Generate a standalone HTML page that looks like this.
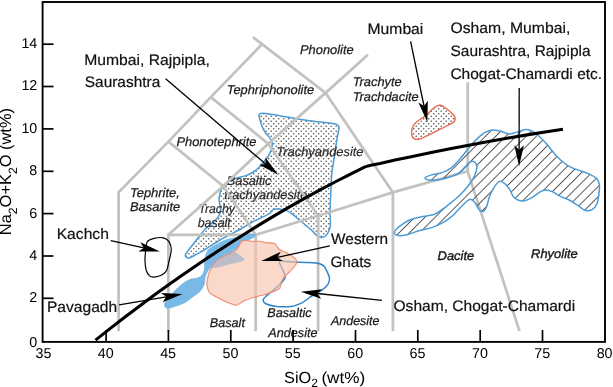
<!DOCTYPE html>
<html><head><meta charset="utf-8"><style>
html,body{margin:0;padding:0;background:#fff;}
svg{display:block;}
</style></head><body>
<svg width="613" height="387" viewBox="0 0 613 387" style="text-rendering:geometricPrecision">
<defs><pattern id="dots" width="5" height="5" patternUnits="userSpaceOnUse"><circle cx="1.2" cy="1.2" r="0.82" fill="#555"/><circle cx="3.7" cy="3.7" r="0.82" fill="#555"/></pattern><pattern id="dotsr" width="5" height="5" patternUnits="userSpaceOnUse"><rect width="5" height="5" fill="#fff"/><circle cx="1.2" cy="1.2" r="0.82" fill="#555"/><circle cx="3.7" cy="3.7" r="0.82" fill="#555"/></pattern><pattern id="hatch" width="7.2" height="7.2" patternUnits="userSpaceOnUse" patternTransform="rotate(45)"><line x1="0.5" y1="0" x2="0.5" y2="7.2" stroke="#3a3a3a" stroke-width="0.85"/></pattern></defs>
<rect width="613" height="387" fill="#fff"/>
<path d="M259.3,114.0 C260.3,113.2 261.9,113.2 265.5,113.5 C269.1,113.8 275.8,115.0 281.0,115.9 C286.2,116.8 291.4,117.9 296.6,118.7 C301.8,119.5 306.9,120.3 312.1,121.0 C317.3,121.7 323.5,122.2 327.6,122.8 C331.7,123.4 335.0,123.6 336.9,124.4 C338.8,125.2 338.9,125.6 339.0,127.5 C339.1,129.4 338.0,133.0 337.5,136.0 C337.0,139.0 336.6,141.6 336.0,145.3 C335.4,149.0 334.9,153.3 334.2,158.0 C333.5,162.7 332.3,168.5 331.8,173.2 C331.3,177.9 331.3,182.0 331.1,186.4 C330.9,190.8 330.7,195.1 330.5,199.5 C330.3,203.9 330.0,208.3 330.0,212.7 C330.0,217.1 330.7,222.4 330.3,225.9 C329.9,229.4 328.8,231.7 327.5,233.6 C326.2,235.5 324.4,236.9 322.7,237.3 C321.0,237.7 319.0,237.0 317.2,235.8 C315.4,234.6 313.7,232.1 311.7,230.3 C309.7,228.5 307.3,226.6 305.1,224.8 C302.9,223.0 300.8,221.1 298.6,219.3 C296.4,217.5 294.2,215.3 292.0,213.8 C289.8,212.3 287.6,210.9 285.4,210.1 C283.2,209.3 280.8,209.1 278.8,209.0 C276.8,208.9 275.1,208.6 273.5,209.3 C271.9,210.1 271.4,212.2 269.5,213.5 C267.6,214.8 264.6,216.1 262.0,217.4 C259.4,218.7 256.7,219.8 254.0,221.2 C251.3,222.6 248.7,224.2 246.0,225.8 C243.3,227.4 240.8,229.0 238.0,230.5 C235.2,232.0 231.9,233.4 229.0,235.0 C226.1,236.6 222.8,238.4 220.3,239.9 C217.8,241.4 216.1,242.6 214.1,243.8 C212.1,245.0 210.2,246.1 208.5,247.2 C206.8,248.3 205.7,249.2 203.6,250.4 C201.5,251.6 198.4,253.3 195.9,254.6 C193.4,255.9 190.2,257.9 188.5,258.2 C186.8,258.5 185.8,257.0 185.4,256.2 C185.0,255.4 185.3,254.7 186.2,253.2 C187.1,251.7 189.1,249.4 190.7,247.3 C192.3,245.2 194.2,243.0 195.9,240.8 C197.6,238.6 199.4,236.2 201.0,234.2 C202.6,232.2 204.0,230.3 205.5,228.8 C207.0,227.3 208.1,226.6 209.8,225.0 C211.5,223.4 214.4,221.1 215.9,219.5 C217.4,217.9 218.2,217.2 219.0,215.6 C219.8,214.0 220.5,212.1 220.6,210.2 C220.7,208.3 220.1,205.8 219.8,204.0 C219.5,202.2 219.0,200.9 219.0,199.3 C219.0,197.8 219.4,196.4 219.8,194.7 C220.2,193.0 220.5,190.6 221.3,189.0 C222.1,187.4 223.2,186.4 224.4,185.2 C225.6,184.0 226.4,182.9 228.3,181.7 C230.2,180.5 233.2,179.2 236.0,178.2 C238.8,177.2 242.2,176.8 245.0,175.9 C247.8,175.0 250.3,173.8 252.5,172.5 C254.7,171.2 256.5,169.7 258.3,168.0 C260.1,166.3 261.9,164.2 263.5,162.3 C265.1,160.4 266.7,158.6 268.0,156.5 C269.3,154.4 270.5,152.2 271.2,150.0 C271.9,147.8 272.4,144.9 272.2,143.0 C272.0,141.1 271.3,140.1 270.2,138.4 C269.1,136.7 266.9,135.1 265.5,132.9 C264.1,130.7 262.6,127.7 261.6,125.2 C260.6,122.8 260.0,120.1 259.6,118.2 C259.2,116.3 258.3,114.8 259.3,114.0Z" fill="url(#dots)" stroke="none"/>
<path d="M259.3,114.0 C260.3,113.2 261.9,113.2 265.5,113.5 C269.1,113.8 275.8,115.0 281.0,115.9 C286.2,116.8 291.4,117.9 296.6,118.7 C301.8,119.5 306.9,120.3 312.1,121.0 C317.3,121.7 323.5,122.2 327.6,122.8 C331.7,123.4 335.0,123.6 336.9,124.4 C338.8,125.2 338.9,125.6 339.0,127.5 C339.1,129.4 338.0,133.0 337.5,136.0 C337.0,139.0 336.6,141.6 336.0,145.3 C335.4,149.0 334.9,153.3 334.2,158.0 C333.5,162.7 332.3,168.5 331.8,173.2 C331.3,177.9 331.3,182.0 331.1,186.4 C330.9,190.8 330.7,195.1 330.5,199.5 C330.3,203.9 330.0,208.3 330.0,212.7 C330.0,217.1 330.7,222.4 330.3,225.9 C329.9,229.4 328.8,231.7 327.5,233.6 C326.2,235.5 324.4,236.9 322.7,237.3 C321.0,237.7 319.0,237.0 317.2,235.8 C315.4,234.6 313.7,232.1 311.7,230.3 C309.7,228.5 307.3,226.6 305.1,224.8 C302.9,223.0 300.8,221.1 298.6,219.3 C296.4,217.5 294.2,215.3 292.0,213.8 C289.8,212.3 287.6,210.9 285.4,210.1 C283.2,209.3 280.8,209.1 278.8,209.0 C276.8,208.9 275.1,208.6 273.5,209.3 C271.9,210.1 271.4,212.2 269.5,213.5 C267.6,214.8 264.6,216.1 262.0,217.4 C259.4,218.7 256.7,219.8 254.0,221.2 C251.3,222.6 248.7,224.2 246.0,225.8 C243.3,227.4 240.8,229.0 238.0,230.5 C235.2,232.0 231.9,233.4 229.0,235.0 C226.1,236.6 222.8,238.4 220.3,239.9 C217.8,241.4 216.1,242.6 214.1,243.8 C212.1,245.0 210.2,246.1 208.5,247.2 C206.8,248.3 205.7,249.2 203.6,250.4 C201.5,251.6 198.4,253.3 195.9,254.6 C193.4,255.9 190.2,257.9 188.5,258.2 C186.8,258.5 185.8,257.0 185.4,256.2 C185.0,255.4 185.3,254.7 186.2,253.2 C187.1,251.7 189.1,249.4 190.7,247.3 C192.3,245.2 194.2,243.0 195.9,240.8 C197.6,238.6 199.4,236.2 201.0,234.2 C202.6,232.2 204.0,230.3 205.5,228.8 C207.0,227.3 208.1,226.6 209.8,225.0 C211.5,223.4 214.4,221.1 215.9,219.5 C217.4,217.9 218.2,217.2 219.0,215.6 C219.8,214.0 220.5,212.1 220.6,210.2 C220.7,208.3 220.1,205.8 219.8,204.0 C219.5,202.2 219.0,200.9 219.0,199.3 C219.0,197.8 219.4,196.4 219.8,194.7 C220.2,193.0 220.5,190.6 221.3,189.0 C222.1,187.4 223.2,186.4 224.4,185.2 C225.6,184.0 226.4,182.9 228.3,181.7 C230.2,180.5 233.2,179.2 236.0,178.2 C238.8,177.2 242.2,176.8 245.0,175.9 C247.8,175.0 250.3,173.8 252.5,172.5 C254.7,171.2 256.5,169.7 258.3,168.0 C260.1,166.3 261.9,164.2 263.5,162.3 C265.1,160.4 266.7,158.6 268.0,156.5 C269.3,154.4 270.5,152.2 271.2,150.0 C271.9,147.8 272.4,144.9 272.2,143.0 C272.0,141.1 271.3,140.1 270.2,138.4 C269.1,136.7 266.9,135.1 265.5,132.9 C264.1,130.7 262.6,127.7 261.6,125.2 C260.6,122.8 260.0,120.1 259.6,118.2 C259.2,116.3 258.3,114.8 259.3,114.0Z" fill="none" stroke="#4a9bd6" stroke-width="1.5"/>
<g font-family="Liberation Sans, Arial, sans-serif" font-style="italic" font-size="12.7" fill="#1a1a1a" stroke="#1a1a1a" stroke-width="0.25">
<text x="300.04" y="53.8" textLength="53.68" lengthAdjust="spacingAndGlyphs">Phonolite</text>
<text x="226.77" y="93.6" textLength="87.38" lengthAdjust="spacingAndGlyphs">Tephriphonolite</text>
<text x="176.44" y="145.9" textLength="80.01" lengthAdjust="spacingAndGlyphs">Phonotephrite</text>
<text x="129.96" y="197.0" textLength="49.96" lengthAdjust="spacingAndGlyphs">Tephrite,</text>
<text x="129.94" y="211.0" textLength="50.21" lengthAdjust="spacingAndGlyphs">Basanite</text>
<text x="352.67" y="86.1" textLength="49.07" lengthAdjust="spacingAndGlyphs">Trachyte</text>
<text x="352.67" y="100.7" textLength="66.06" lengthAdjust="spacingAndGlyphs">Trachdacite</text>
<text x="209.74" y="326.8" textLength="35.18" lengthAdjust="spacingAndGlyphs">Basalt</text>
<text x="267.24" y="316.6" textLength="44.38" lengthAdjust="spacingAndGlyphs">Basaltic</text>
<text x="268.36" y="336.7" textLength="49.18" lengthAdjust="spacingAndGlyphs">Andesite</text>
<text x="330.95" y="325.4" textLength="48.59" lengthAdjust="spacingAndGlyphs">Andesite</text>
</g>
<g font-family="Liberation Sans, Arial, sans-serif" font-style="italic" font-size="12.7" fill="#1a1a1a" stroke="#1a1a1a" stroke-width="0.4">
<text x="437.62" y="260.4" textLength="36.53" lengthAdjust="spacingAndGlyphs">Dacite</text>
<text x="531.12" y="258.3" textLength="46.67" lengthAdjust="spacingAndGlyphs">Rhyolite</text>
</g>
<g font-family="Liberation Sans, Arial, sans-serif" font-style="italic" font-size="12.7" fill="#2a2a2a" stroke="#2a2a2a" stroke-width="0.18">
<text x="198.45" y="212.9" textLength="36.32" lengthAdjust="spacingAndGlyphs">Trachy</text>
<text x="197.66" y="227.0" textLength="33.14" lengthAdjust="spacingAndGlyphs">basalt</text>
<text x="276.39" y="155.9" textLength="87.15" lengthAdjust="spacingAndGlyphs">Trachyandesite</text>
<text x="226.77" y="185.3" textLength="44.73" lengthAdjust="spacingAndGlyphs">Basaltic</text>
<text x="224.38" y="198.7" textLength="82.91" lengthAdjust="spacingAndGlyphs">trachyandesite</text>
</g>
<polyline points="118.6,331.2 118.6,192.4 168.4,141.6 210.8,97.1 262.0,44.2" fill="none" stroke="#c3c2bf" stroke-width="2.75" stroke-linejoin="miter"/>
<polyline points="168.4,331.2 168.4,234.8 255.7,234.8 318.1,215.7 392.9,192.4 467.7,171.3" fill="none" stroke="#c3c2bf" stroke-width="2.75" stroke-linejoin="miter"/>
<polyline points="255.7,331.2 255.7,234.8" fill="none" stroke="#c3c2bf" stroke-width="2.75" stroke-linejoin="miter"/>
<polyline points="318.1,331.2 318.1,215.7" fill="none" stroke="#c3c2bf" stroke-width="2.75" stroke-linejoin="miter"/>
<polyline points="392.9,331.2 392.9,192.4" fill="none" stroke="#c3c2bf" stroke-width="2.75" stroke-linejoin="miter"/>
<polyline points="467.7,171.3 467.7,82.3" fill="none" stroke="#c3c2bf" stroke-width="2.75" stroke-linejoin="miter"/>
<polyline points="467.7,171.3 519.5,331.2" fill="none" stroke="#c3c2bf" stroke-width="2.75" stroke-linejoin="miter"/>
<polyline points="168.4,234.8 223.3,186.1 268.2,143.7 325.6,92.9 367.9,54.8" fill="none" stroke="#c3c2bf" stroke-width="2.75" stroke-linejoin="miter"/>
<polyline points="168.4,141.6 223.3,186.1 255.7,234.8" fill="none" stroke="#c3c2bf" stroke-width="2.75" stroke-linejoin="miter"/>
<polyline points="210.8,97.1 268.2,143.7 318.1,215.7" fill="none" stroke="#c3c2bf" stroke-width="2.75" stroke-linejoin="miter"/>
<polyline points="252.9,37.2 262.0,44.2 325.6,92.9 392.9,192.4" fill="none" stroke="#c3c2bf" stroke-width="2.75" stroke-linejoin="miter"/>
<path d="M164.5,304.5 C164.4,305.6 164.8,306.8 165.5,307.4 C166.2,308.0 166.6,308.4 168.7,308.1 C170.8,307.8 175.1,306.5 177.9,305.5 C180.7,304.5 183.5,303.5 185.7,302.2 C187.9,300.9 189.0,299.6 191.3,297.9 C193.6,296.1 197.4,293.9 199.6,291.7 C201.8,289.5 203.3,286.8 204.2,284.6 C205.1,282.4 204.6,280.2 205.0,278.3 C205.4,276.4 205.8,275.0 206.5,273.5 C207.2,272.0 208.1,270.8 209.0,269.5 C209.9,268.2 211.1,267.2 212.0,266.0 C212.9,264.8 213.3,263.8 214.5,262.5 C215.7,261.2 217.1,259.8 219.0,258.5 C220.9,257.2 224.0,255.8 226.0,254.8 C228.0,253.8 229.5,253.2 231.0,252.3 C232.5,251.4 233.9,250.6 235.2,249.6 C236.4,248.6 237.6,247.6 238.5,246.5 C239.4,245.4 240.1,243.8 240.8,243.0 C241.6,242.2 242.0,241.8 243.0,241.4 C244.0,241.0 245.5,240.9 247.0,240.4 C248.5,239.9 250.6,238.9 252.0,238.2 C253.4,237.5 254.9,236.7 255.3,236.0 C255.7,235.3 255.2,234.4 254.4,234.1 C253.6,233.8 252.1,233.9 250.5,234.1 C248.9,234.3 247.0,234.8 245.0,235.2 C243.0,235.6 241.1,236.2 238.8,236.8 C236.4,237.4 233.6,237.8 231.0,238.5 C228.4,239.2 225.8,239.8 223.2,240.9 C220.7,242.0 217.5,244.0 215.5,245.1 C213.5,246.2 212.3,246.7 211.0,247.6 C209.7,248.5 208.7,249.1 207.8,250.5 C206.8,251.9 206.1,254.1 205.5,256.0 C204.9,257.9 204.5,260.1 204.3,262.0 C204.2,263.9 204.8,265.6 204.6,267.5 C204.4,269.4 203.9,271.7 203.2,273.2 C202.5,274.7 201.6,275.7 200.5,276.5 C199.4,277.3 198.2,277.8 196.6,278.2 C195.0,278.6 193.2,278.3 191.2,279.0 C189.2,279.7 186.6,280.9 184.4,282.4 C182.2,283.9 180.1,285.8 177.9,287.8 C175.7,289.8 173.4,292.2 171.4,294.4 C169.4,296.6 167.2,299.2 166.1,300.9 C164.9,302.6 164.6,303.4 164.5,304.5Z" fill="#78b9e5" stroke="#6fb2e2" stroke-width="0.6"/>
<path d="M279.4,261.3 C278.5,262.4 281.2,266.2 282.1,268.5 C283.0,270.8 284.4,273.2 284.8,274.8 C285.2,276.4 285.6,276.9 284.8,278.4 C284.1,279.9 282.2,281.9 280.3,283.9 C278.4,285.9 275.5,288.1 273.1,290.2 C270.7,292.3 267.5,294.9 265.8,296.5 C264.1,298.1 263.1,298.9 263.1,300.1 C263.1,301.3 263.5,302.6 265.8,303.7 C268.1,304.8 272.5,305.9 276.7,306.4 C280.9,306.8 286.9,307.0 291.1,306.4 C295.3,305.8 298.7,304.4 302.0,302.8 C305.3,301.2 307.7,298.6 311.0,296.5 C314.3,294.4 319.0,292.3 321.9,290.2 C324.8,288.1 326.9,285.9 328.2,283.9 C329.5,281.9 329.6,280.4 329.5,278.4 C329.4,276.4 328.3,274.2 327.3,272.1 C326.3,270.0 325.5,267.3 323.7,265.8 C321.9,264.3 319.4,263.7 316.4,263.1 C313.4,262.6 308.9,262.6 305.6,262.5 C302.3,262.4 299.6,262.3 296.6,262.2 C293.6,262.1 290.4,261.8 287.5,261.6 C284.6,261.5 280.3,260.2 279.4,261.3Z" fill="none" stroke="#2f86cc" stroke-width="1.5"/>
<path d="M242.0,240.7 C242.8,240.3 243.7,240.3 245.3,240.4 C246.9,240.5 249.4,241.2 251.8,241.3 C254.2,241.5 257.6,241.1 260.0,241.3 C262.4,241.5 263.4,242.2 265.9,242.6 C268.3,243.0 272.5,242.6 274.7,243.7 C276.9,244.8 276.9,247.5 279.1,249.2 C281.3,250.8 285.3,252.1 287.9,253.6 C290.5,255.1 293.0,256.5 294.5,258.0 C296.0,259.5 297.3,260.6 296.9,262.4 C296.5,264.2 294.4,266.6 292.3,269.0 C290.2,271.4 286.4,274.4 284.6,276.6 C282.8,278.8 282.2,280.1 281.3,282.1 C280.4,284.1 281.7,286.7 279.1,288.7 C276.5,290.7 269.6,292.9 265.9,294.2 C262.2,295.5 260.8,295.3 257.1,296.4 C253.5,297.5 247.5,299.3 244.0,300.8 C240.5,302.3 239.2,305.0 236.3,305.2 C233.4,305.4 229.5,303.2 226.4,301.9 C223.3,300.6 220.3,299.0 217.6,297.5 C214.8,296.0 211.7,295.2 209.9,293.1 C208.1,291.0 207.2,288.0 206.9,285.0 C206.6,282.0 207.6,277.9 208.3,275.2 C209.0,272.4 210.4,270.4 211.3,268.5 C212.2,266.6 212.6,265.1 213.9,263.5 C215.2,261.9 217.0,260.3 219.2,258.9 C221.4,257.5 224.4,256.3 227.0,255.0 C229.6,253.7 232.9,252.4 234.8,251.1 C236.7,249.8 237.6,248.3 238.5,247.0 C239.4,245.7 239.7,244.1 240.3,243.0 C240.9,241.9 241.2,241.1 242.0,240.7Z" fill="#f7c1aa" fill-opacity="0.62" stroke="none"/>
<path d="M211.8,267.5 C211.0,266.9 212.7,264.9 213.9,263.5 C215.1,262.1 217.0,260.3 219.2,258.9 C221.4,257.5 224.9,256.1 227.0,255.0 C229.1,253.9 230.6,252.8 232.0,252.4 C233.4,252.0 233.9,251.6 235.5,252.3 C237.1,253.0 239.9,255.4 241.4,256.5 C242.9,257.6 244.3,258.3 244.5,259.1 C244.7,259.9 244.1,260.5 242.4,261.2 C240.7,261.9 236.8,262.6 234.1,263.3 C231.3,264.0 228.5,264.6 225.9,265.3 C223.3,266.0 220.9,267.0 218.6,267.4 C216.2,267.8 212.6,268.1 211.8,267.5Z" fill="#bdbccb" stroke="none"/>
<path d="M242.0,240.7 C242.8,240.3 243.7,240.3 245.3,240.4 C246.9,240.5 249.4,241.2 251.8,241.3 C254.2,241.5 257.6,241.1 260.0,241.3 C262.4,241.5 263.4,242.2 265.9,242.6 C268.3,243.0 272.5,242.6 274.7,243.7 C276.9,244.8 276.9,247.5 279.1,249.2 C281.3,250.8 285.3,252.1 287.9,253.6 C290.5,255.1 293.0,256.5 294.5,258.0 C296.0,259.5 297.3,260.6 296.9,262.4 C296.5,264.2 294.4,266.6 292.3,269.0 C290.2,271.4 286.4,274.4 284.6,276.6 C282.8,278.8 282.2,280.1 281.3,282.1 C280.4,284.1 281.7,286.7 279.1,288.7 C276.5,290.7 269.6,292.9 265.9,294.2 C262.2,295.5 260.8,295.3 257.1,296.4 C253.5,297.5 247.5,299.3 244.0,300.8 C240.5,302.3 239.2,305.0 236.3,305.2 C233.4,305.4 229.5,303.2 226.4,301.9 C223.3,300.6 220.3,299.0 217.6,297.5 C214.8,296.0 211.7,295.2 209.9,293.1 C208.1,291.0 207.2,288.0 206.9,285.0 C206.6,282.0 207.6,277.9 208.3,275.2 C209.0,272.4 210.4,270.4 211.3,268.5 C212.2,266.6 212.6,265.1 213.9,263.5 C215.2,261.9 217.0,260.3 219.2,258.9 C221.4,257.5 224.4,256.3 227.0,255.0 C229.6,253.7 232.9,252.4 234.8,251.1 C236.7,249.8 237.6,248.3 238.5,247.0 C239.4,245.7 239.7,244.1 240.3,243.0 C240.9,241.9 241.2,241.1 242.0,240.7Z" fill="none" stroke="#ee8a70" stroke-width="1.1"/>
<path d="M147.3,241.7 C148.8,239.4 151.5,239.0 154.2,238.3 C156.9,237.7 160.8,237.2 163.3,237.8 C165.8,238.4 167.7,239.7 169.0,241.7 C170.3,243.7 171.3,246.5 171.3,249.7 C171.3,252.9 169.8,257.7 169.0,261.1 C168.2,264.5 167.8,267.9 166.7,270.2 C165.6,272.5 164.3,273.6 162.2,274.8 C160.1,276.0 156.3,276.9 154.2,277.1 C152.1,277.3 150.9,277.0 149.6,275.9 C148.3,274.8 147.0,272.7 146.2,270.2 C145.4,267.7 145.1,264.1 145.0,261.1 C144.9,258.1 145.1,255.2 145.5,252.0 C145.9,248.8 145.9,244.0 147.3,241.7Z" fill="none" stroke="#000" stroke-width="1.2"/>
<path d="M437.2,105.9 C438.6,105.3 439.7,105.1 441.0,105.4 C442.3,105.7 443.5,106.5 444.9,107.5 C446.3,108.5 448.1,109.9 449.6,111.3 C451.2,112.7 453.3,114.6 454.2,116.0 C455.1,117.4 455.2,118.6 455.0,119.8 C454.8,121.0 454.1,121.9 452.7,122.9 C451.3,123.9 448.8,124.8 446.5,126.0 C444.2,127.2 441.6,128.5 438.7,129.9 C435.8,131.3 432.2,133.2 429.4,134.6 C426.6,136.0 424.0,137.6 421.7,138.4 C419.4,139.2 417.1,139.4 415.5,139.2 C413.9,138.9 413.0,138.2 412.4,136.9 C411.8,135.6 411.5,133.3 411.6,131.5 C411.7,129.7 412.4,127.5 413.2,126.0 C414.0,124.5 414.9,123.5 416.3,122.2 C417.7,120.9 419.8,119.7 421.7,118.3 C423.6,116.9 426.1,115.2 427.9,113.7 C429.7,112.2 430.9,110.3 432.5,109.0 C434.1,107.7 435.8,106.5 437.2,105.9Z" fill="url(#dotsr)" stroke="#e8694f" stroke-width="1.4"/>
<path d="M425.1,177.9 C425.6,177.1 428.8,175.8 431.6,174.9 C434.4,174.0 438.8,173.7 442.0,172.6 C445.2,171.5 448.2,170.1 450.9,168.1 C453.6,166.1 455.9,163.4 458.4,160.7 C460.9,158.0 463.3,154.8 465.8,151.8 C468.3,148.8 471.0,145.3 473.2,142.8 C475.4,140.3 477.2,138.6 479.2,136.9 C481.2,135.2 482.9,133.5 485.1,132.4 C487.3,131.3 490.1,130.3 492.6,130.1 C495.1,129.9 497.2,130.4 500.0,131.0 C502.8,131.6 506.2,133.8 509.4,133.9 C512.6,134.0 516.4,132.2 519.2,131.5 C522.0,130.8 523.8,129.7 526.0,129.6 C528.2,129.5 530.0,130.0 532.2,131.2 C534.4,132.3 536.9,134.4 539.3,136.5 C541.7,138.6 544.3,141.3 546.5,143.7 C548.7,146.1 550.2,148.5 552.4,151.1 C554.6,153.7 557.0,156.8 559.8,159.3 C562.6,161.8 565.6,164.4 569.1,166.3 C572.6,168.2 577.3,169.7 580.8,171.0 C584.3,172.3 587.4,173.1 590.1,174.4 C592.8,175.8 595.6,177.3 597.1,179.1 C598.6,180.8 599.1,182.4 599.4,184.9 C599.7,187.4 599.3,191.1 598.9,194.2 C598.5,197.3 598.2,201.0 597.1,203.5 C596.0,206.0 594.4,208.2 592.4,209.4 C590.4,210.6 587.7,211.1 585.4,210.5 C583.1,209.9 581.2,207.7 578.5,205.9 C575.8,204.2 572.2,201.6 569.1,200.0 C566.0,198.4 562.5,197.4 559.8,196.1 C557.1,194.8 555.1,192.9 552.8,191.9 C550.5,190.9 548.0,190.0 545.9,190.0 C543.8,190.0 542.3,190.6 540.0,191.9 C537.7,193.2 534.4,196.2 531.9,197.7 C529.4,199.2 527.2,200.3 524.9,200.7 C522.6,201.1 519.8,200.7 517.9,200.0 C516.0,199.3 514.6,198.3 513.3,196.6 C511.9,194.9 511.2,191.7 509.8,189.6 C508.4,187.5 506.9,185.2 505.1,183.8 C503.4,182.4 501.2,180.6 499.3,181.4 C497.4,182.2 495.1,185.9 493.5,188.4 C491.9,190.9 490.8,193.2 489.6,196.3 C488.5,199.4 487.6,204.2 486.6,206.7 C485.6,209.2 484.8,210.7 483.6,211.2 C482.4,211.7 480.7,211.2 479.2,209.7 C477.7,208.2 476.2,204.0 474.7,202.3 C473.2,200.6 471.8,199.3 470.3,199.3 C468.8,199.3 467.8,200.6 465.8,202.3 C463.8,204.0 460.9,207.2 458.4,209.7 C455.9,212.2 453.6,215.0 450.9,217.2 C448.2,219.4 445.2,221.4 442.0,223.1 C438.8,224.8 435.3,226.4 431.6,227.6 C427.9,228.8 423.7,229.4 419.7,230.5 C415.7,231.6 411.3,233.6 407.8,234.4 C404.3,235.2 401.1,235.8 398.9,235.6 C396.7,235.4 395.0,234.5 394.5,233.5 C394.0,232.5 394.8,231.1 396.0,229.6 C397.2,228.1 399.4,226.3 401.9,224.6 C404.4,222.9 407.3,220.8 410.8,219.5 C414.3,218.2 418.7,217.5 422.7,216.6 C426.7,215.7 431.4,215.3 434.6,214.2 C437.8,213.0 439.5,211.4 442.0,209.7 C444.5,208.0 447.0,205.8 449.5,203.8 C452.0,201.8 454.4,200.0 456.9,197.8 C459.4,195.6 462.1,192.9 464.3,190.4 C466.5,187.9 468.6,185.5 470.3,183.0 C472.0,180.5 473.6,178.0 474.7,175.5 C475.8,173.0 476.6,170.2 476.8,168.1 C477.0,166.0 476.5,164.1 475.6,163.0 C474.8,161.9 473.1,161.0 471.7,161.3 C470.3,161.7 469.3,163.2 467.3,165.1 C465.3,167.0 462.9,170.6 459.9,172.6 C456.9,174.6 453.2,175.8 449.5,177.0 C445.8,178.2 441.1,179.5 437.6,180.0 C434.1,180.5 430.7,180.3 428.6,180.0 C426.5,179.7 424.6,178.8 425.1,177.9Z" fill="url(#hatch)" stroke="#4a9bd6" stroke-width="1.5"/>
<polyline points="95.5,340.1 110.0,328.6 125.0,317.0 140.0,305.7 155.0,294.6 170.0,283.8 185.0,273.3 200.0,263.0 215.0,253.0 230.0,243.2 245.0,233.7 260.0,224.4 275.0,215.4 290.0,206.7 305.0,198.2 320.0,189.9 335.0,182.0 350.0,174.3 360.0,169.3 364.5,167.1 368.0,165.9 372.0,165.1 380.0,163.5 395.0,160.1 410.0,156.9 430.0,152.8 450.0,148.8 470.0,144.9 490.0,141.3 510.0,137.8 530.0,134.4 550.0,131.2 563.0,129.3" fill="none" stroke="#000" stroke-width="3.1" stroke-linejoin="round"/>
<rect x="42.6" y="2" width="562.4" height="339.9" fill="none" stroke="#000" stroke-width="1.9"/>
<line x1="106.1" y1="341" x2="106.1" y2="330" stroke="#000" stroke-width="1.7"/>
<line x1="168.4" y1="341" x2="168.4" y2="330" stroke="#000" stroke-width="1.7"/>
<line x1="230.8" y1="341" x2="230.8" y2="330" stroke="#000" stroke-width="1.7"/>
<line x1="293.1" y1="341" x2="293.1" y2="330" stroke="#000" stroke-width="1.7"/>
<line x1="355.5" y1="341" x2="355.5" y2="330" stroke="#000" stroke-width="1.7"/>
<line x1="417.8" y1="341" x2="417.8" y2="330" stroke="#000" stroke-width="1.7"/>
<line x1="480.2" y1="341" x2="480.2" y2="330" stroke="#000" stroke-width="1.7"/>
<line x1="542.5" y1="341" x2="542.5" y2="330" stroke="#000" stroke-width="1.7"/>
<line x1="42.7" y1="298.3" x2="53.5" y2="298.3" stroke="#000" stroke-width="1.7"/>
<line x1="42.7" y1="256.0" x2="53.5" y2="256.0" stroke="#000" stroke-width="1.7"/>
<line x1="42.7" y1="213.6" x2="53.5" y2="213.6" stroke="#000" stroke-width="1.7"/>
<line x1="42.7" y1="171.3" x2="53.5" y2="171.3" stroke="#000" stroke-width="1.7"/>
<line x1="42.7" y1="128.9" x2="53.5" y2="128.9" stroke="#000" stroke-width="1.7"/>
<line x1="42.7" y1="86.5" x2="53.5" y2="86.5" stroke="#000" stroke-width="1.7"/>
<line x1="42.7" y1="44.2" x2="53.5" y2="44.2" stroke="#000" stroke-width="1.7"/>
<g font-family="Liberation Sans, Arial, sans-serif" font-size="14.3" fill="#000" text-anchor="middle">
<text x="43.5" y="358.2">35</text>
<text x="105.8" y="358.2">40</text>
<text x="168.1" y="358.2">45</text>
<text x="230.5" y="358.2">50</text>
<text x="292.8" y="358.2">55</text>
<text x="355.2" y="358.2">60</text>
<text x="417.5" y="358.2">65</text>
<text x="479.9" y="358.2">70</text>
<text x="542.2" y="358.2">75</text>
<text x="604.6" y="358.2">80</text>
</g><g font-family="Liberation Sans, Arial, sans-serif" font-size="14.3" fill="#000" text-anchor="end">
<text x="37.3" y="346.7">0</text>
<text x="37.3" y="302.2">2</text>
<text x="37.3" y="259.9">4</text>
<text x="37.3" y="217.5">6</text>
<text x="37.3" y="175.2">8</text>
<text x="37.3" y="132.8">10</text>
<text x="37.3" y="90.4">12</text>
<text x="37.3" y="48.1">14</text>
</g>
<text y="382.6" font-family="Liberation Sans, Arial, sans-serif" font-size="16"><tspan x="284.1" textLength="27.2" lengthAdjust="spacingAndGlyphs">SiO</tspan><tspan font-size="12" x="311.2" y="387.4">2</tspan><tspan x="321.4" y="382.6" textLength="43.8" lengthAdjust="spacingAndGlyphs">(wt%)</tspan></text>
<text transform="translate(11.0,235.2) rotate(-90) scale(1.025,1)" font-family="Liberation Sans, Arial, sans-serif" font-size="16">Na<tspan font-size="12" dy="5.6">2</tspan><tspan dy="-5.6">O+K</tspan><tspan font-size="12" dy="5.6">2</tspan><tspan dy="-5.6">O (wt%)</tspan></text>
<g font-family="Liberation Sans, Arial, sans-serif" font-size="15.2" fill="#111" stroke="#111" stroke-width="0.2">
<text x="84.25" y="65.1" textLength="125.54" lengthAdjust="spacingAndGlyphs">Mumbai, Rajpipla,</text>
<text x="84.81" y="87.3" textLength="75.42" lengthAdjust="spacingAndGlyphs">Saurashtra</text>
<text x="367.55" y="33.8" textLength="55.80" lengthAdjust="spacingAndGlyphs">Mumbai</text>
<text x="450.50" y="32.7" textLength="119.79" lengthAdjust="spacingAndGlyphs">Osham, Mumbai,</text>
<text x="450.51" y="55.8" textLength="140.01" lengthAdjust="spacingAndGlyphs">Saurashtra, Rajpipla</text>
<text x="450.43" y="78.5" textLength="151.71" lengthAdjust="spacingAndGlyphs">Chogat-Chamardi etc.</text>
<text x="56.65" y="238.7" textLength="52.27" lengthAdjust="spacingAndGlyphs">Kachch</text>
<text x="46.95" y="311.9" textLength="70.24" lengthAdjust="spacingAndGlyphs">Pavagadh</text>
<text x="331.12" y="244.3" textLength="56.98" lengthAdjust="spacingAndGlyphs">Western</text>
<text x="330.43" y="266.8" textLength="40.87" lengthAdjust="spacingAndGlyphs">Ghats</text>
<text x="393.50" y="311.2" textLength="181.63" lengthAdjust="spacingAndGlyphs">Osham, Chogat-Chamardi</text>
</g>
<line x1="165.6" y1="78.7" x2="265.7" y2="164.1" stroke="#000" stroke-width="1.3"/><path d="M278.3,174.8 L259.2,164.8 L265.7,164.1 L265.4,157.5 Z" fill="#000"/>
<line x1="410.6" y1="41.4" x2="424.0" y2="106.0" stroke="#000" stroke-width="1.3"/><path d="M427.4,122.2 L418.4,102.6 L424.0,106.0 L427.8,100.7 Z" fill="#000"/>
<line x1="519.2" y1="88.0" x2="519.1" y2="149.8" stroke="#000" stroke-width="1.3"/><path d="M519.1,166.3 L514.3,145.3 L519.1,149.8 L523.9,145.3 Z" fill="#000"/>
<line x1="110.8" y1="240.6" x2="143.8" y2="247.9" stroke="#000" stroke-width="1.3"/><path d="M159.9,251.5 L138.4,251.6 L143.8,247.9 L140.4,242.3 Z" fill="#000"/>
<line x1="119.1" y1="304.8" x2="166.2" y2="296.8" stroke="#000" stroke-width="1.3"/><path d="M182.5,294.1 L162.6,302.3 L166.2,296.8 L161.0,292.9 Z" fill="#000"/>
<line x1="329.8" y1="245.9" x2="277.4" y2="257.4" stroke="#000" stroke-width="1.3"/><path d="M261.3,260.9 L280.8,251.7 L277.4,257.4 L282.8,261.1 Z" fill="#000"/>
<line x1="381.9" y1="300.4" x2="317.2" y2="293.5" stroke="#000" stroke-width="1.3"/><path d="M300.8,291.8 L322.2,289.2 L317.2,293.5 L321.2,298.8 Z" fill="#000"/>
</svg>
</body></html>
